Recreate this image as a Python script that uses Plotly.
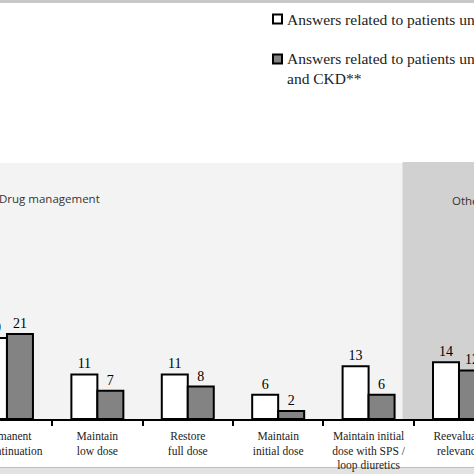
import plotly.graph_objects as go

categories = ["Permanent<br>discontinuation", "Maintain<br>low dose", "Restore<br>full dose",
              "Maintain<br>initial dose", "Maintain initial<br>dose with SPS /<br>loop diuretics",
              "Reevaluate<br>relevance"]
series_names = ["Answers related to patients under RAASi*",
                "Answers related to patients under RAASi with heart failure<br>and CKD**"]
answers_raasi = [20, 11, 11, 6, 13, 14]
answers_ckd = [21, 7, 8, 2, 6, 12]
group_labels = ["Drug management", "Other measures"]

W = H = 474
top, base = 163, 419          # plot area top / baseline in pixels


def px(x):
    return x / W


def py(y):
    return (base - y) / (base - top)


serif = "Liberation Serif"

fig = go.Figure()
fig.add_trace(go.Bar(x=categories, y=answers_raasi, name=series_names[0],
                     marker=dict(color="white", line=dict(color="black", width=2)),
                     text=answers_raasi, textposition="outside",
                     textfont=dict(family=serif, size=14, color="black")))
fig.add_trace(go.Bar(x=categories, y=answers_ckd, name=series_names[1],
                     marker=dict(color="#838383", line=dict(color="black", width=2)),
                     text=answers_ckd, textposition="outside",
                     textfont=dict(family=serif, size=14, color="black")))

shapes = [
    # darker band for the second group
    dict(type="rect", xref="paper", yref="paper", x0=px(402.5), x1=1.01, y0=0, y1=py(162),
         fillcolor="#d1d1d1", line_width=0, layer="below"),
    # frame strips of the cropped picture
    dict(type="rect", xref="paper", yref="paper", x0=-0.01, x1=1.01, y0=py(3), y1=py(-2),
         fillcolor="#c8c8c8", line_width=0),
    dict(type="rect", xref="paper", yref="paper", x0=-0.01, x1=1.01, y0=py(480), y1=py(467.5),
         fillcolor="#e2e2e2", line=dict(color="#bdbdbd", width=1), layer="below"),
]

ann = [
    dict(x=px(-3), y=py(198), text=group_labels[0]),
    dict(x=px(450), y=py(200), text=group_labels[1]),
]
annotations = [dict(a, xref="paper", yref="paper", xanchor="left", yanchor="middle",
                    showarrow=False, font=dict(family="Open Sans", size=11.5, color="#333"))
               for a in ann]

# hand-placed legend
legend_y = [19, 59]
legend_fill = ["white", "#838383"]
legend_text_y = [19, 68]
for i in range(2):
    shapes.append(dict(type="rect", xref="paper", yref="paper",
                       x0=px(273), x1=px(282), y0=py(legend_y[i] + 4.5), y1=py(legend_y[i] - 4.5),
                       fillcolor=legend_fill[i], line=dict(color="black", width=2)))
    annotations.append(dict(xref="paper", yref="paper", x=px(285), y=py(legend_text_y[i]),
                            xanchor="left", yanchor="middle", align="left", showarrow=False,
                            text=series_names[i],
                            font=dict(family=serif, size=15.5, color="#222")))

fig.update_layout(
    width=W, height=H,
    margin=dict(l=0, r=0, t=top, b=H - base, pad=0),
    paper_bgcolor="white", plot_bgcolor="#f3f3f3",
    barmode="group", bargap=0.425, bargroupgap=0,
    showlegend=False,
    shapes=shapes, annotations=annotations,
)
fig.update_xaxes(type="category", range=[-0.077, 5.166], showline=True, linecolor="black",
                 linewidth=1.5, ticks="outside", tickson="boundaries", ticklen=5,
                 tickwidth=1.5, tickcolor="black", showgrid=False, automargin=False,
                 tickfont=dict(family=serif, size=11.5, color="#222"), ticklabelstandoff=5)
fig.update_yaxes(range=[0, (base - top) / 4.05], visible=False, showgrid=False,
                 automargin=False)

# page body has a default 8px margin, drop it so the figure fills the window
fig.write_html("out.html", config={"displayModeBar": False},
               post_script="document.body.style.margin = '0';")
